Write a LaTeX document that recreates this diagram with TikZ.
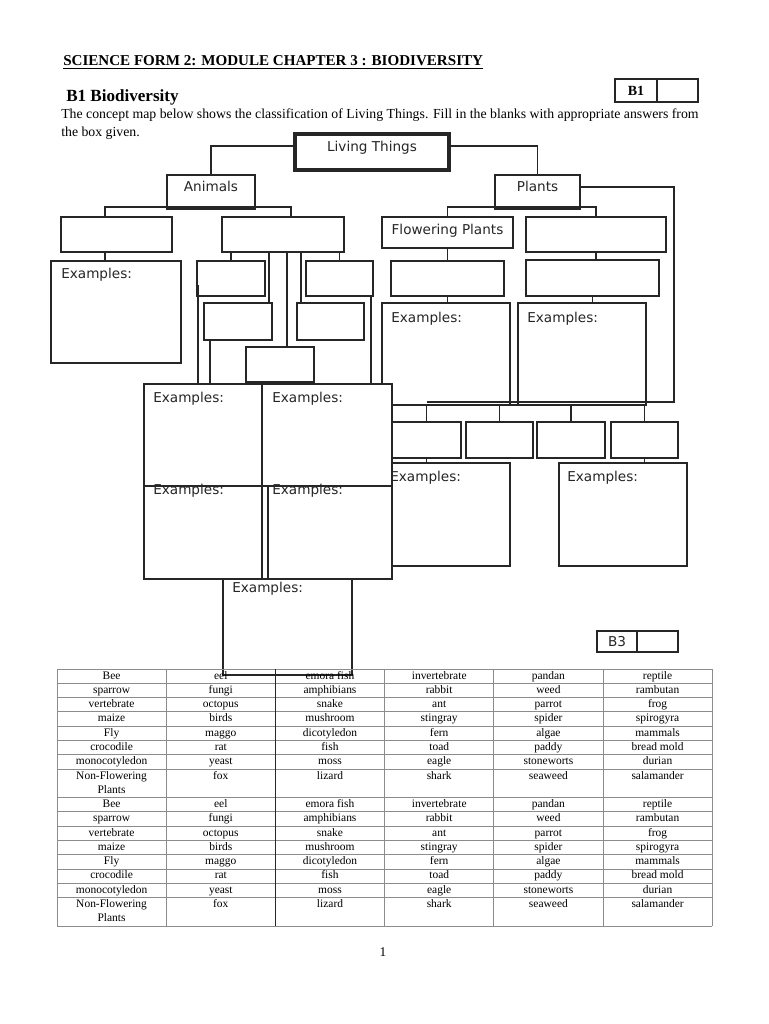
\documentclass[tikz,border=0pt]{standalone}
\usepackage{fontspec}
\setmainfont{Liberation Serif}
\newfontfamily\boxfont{DejaVu Sans}
\usetikzlibrary{positioning,calc}
\definecolor{clrL}{RGB}{38,38,38}
\definecolor{clrT}{RGB}{140,140,140}
\tikzset{
  blank/.style={rectangle,draw=clrL,line width=0.9pt,fill=white,inner sep=0pt,outer sep=0pt},
  sz/.style 2 args={minimum width=#1*0.75pt,minimum height=#2*0.75pt},
  rootbox/.style={blank,line width=2.6pt},
  boxtext/.style={font=\boxfont\fontsize{10.2}{12}\selectfont,text=clrL,inner sep=0pt},
  extext/.style={boxtext,anchor=north west},
  link/.style={draw=clrL,line width=0.9pt},
  head/.style={anchor=base west,inner sep=0pt},
  cell/.style={font=\fontsize{8.6}{10.5}\selectfont,inner sep=0pt,align=center,anchor=north},
  rule/.style={draw=clrT,line width=0.6pt}
}
\begin{document}
\begin{tikzpicture}[x=0.75pt,y=-0.75pt]
  \useasboundingbox (0,0) rectangle (768,1024);
  \fill[white] (0,0) rectangle (768,1024);
  % heading
  \node[head,font=\fontsize{11.3}{13}\selectfont\bfseries] (title) at (63,66)
    {\underline{SCIENCE FORM 2: MODULE CHAPTER 3 : BIODIVERSITY}};
  \node[head,font=\fontsize{12.8}{14}\selectfont\bfseries] (section) at (66,101) {B1 Biodiversity};
  \node[head,font=\fontsize{10.35}{12}\selectfont] (introA) at (61,118)
    {The concept map below shows the classification of Living Things. Fill in the blanks with appropriate answers from};
  \node[head,font=\fontsize{10.35}{12}\selectfont] (introB) at (61,137) {the box given.};
  \node[blank,sz={42}{23},font=\fontsize{10.5}{12}\selectfont\bfseries] (markOne) at (636,90.5) {B1};
  \node[blank,sz={41}{23},right=0pt of markOne] (markOneBox) {};
  % top of the map
  \node[rootbox,sz={154}{36}] (living) at (372,152) {};
  \node[boxtext,below=5pt of living.north] (livingTxt) {Living Things};
  \node[blank,sz={88}{34}] (animals) at (211,192) {};
  \node[boxtext,below=4.5pt of animals.north] (animalsTxt) {Animals};
  \node[blank,sz={85}{34}] (plants) at (537.5,192) {};
  \node[boxtext,below=4.5pt of plants.north] (plantsTxt) {Plants};
  \draw[link] ($(living.west)+(0,-6)$) -| (animals.north);
  \draw[link] ($(living.east)+(0,-6)$) -| (plants.north);
  % animals
  \node[blank,sz={111}{35}] (invBox) at (116.5,234.5) {};
  \node[blank,sz={122}{35}] (vertBox) at (283,234.5) {};
  \coordinate (animalsFork) at ($(animals.south)+(0,-2)$);
  \draw[link] ($(invBox.north)+(-11.5,0)$) |- (animalsFork) -| ($(vertBox.north)+(8,0)$);
  \node[blank,sz={130}{102}] (invEx) at (116,312) {};
  \node[extext,below right=5.25pt and 7.5pt of invEx.north west] (invExTxt) {Examples:};
  \coordinate (invTap) at ($(invBox.south)+(-11.5,0)$);
  \draw[link] (invTap) -- (invTap |- invEx.north);
  \node[blank,sz={68}{35}] (clsA) at (231,278.5) {};
  \node[blank,sz={67}{35}] (clsB) at (339.5,278.5) {};
  \node[blank,sz={68}{37}] (clsC) at (238,321.5) {};
  \node[blank,sz={67}{37}] (clsD) at (330.5,321.5) {};
  \node[blank,sz={68}{35}] (clsE) at (280,364.5) {};
  \coordinate (tapC) at ($(clsC.north east)+(-3,0)$);
  \coordinate (tapD) at ($(clsD.north west)+(4,0)$);
  \coordinate (tapE) at ($(clsE.north)+(7,0)$);
  \draw[link] (clsA.north) -- (clsA.north |- vertBox.south);
  \draw[link] (clsB.north) -- (clsB.north |- vertBox.south);
  \draw[link] (tapC) -- (tapC |- vertBox.south);
  \draw[link] (tapD) -- (tapD |- vertBox.south);
  \draw[link] (tapE) -- (tapE |- vertBox.south);
  % plants
  \node[blank,sz={131}{31}] (flowBox) at (447.5,232.5) {};
  \node[boxtext,below=5pt of flowBox.north] (flowTxt) {Flowering Plants};
  \node[blank,sz={140}{35}] (nonflowBox) at (596,234.5) {};
  \coordinate (plantsFork) at ($(plants.south)+(0,-2)$);
  \draw[link] (flowBox.north) |- (plantsFork) -| (nonflowBox.north);
  \node[blank,sz={113}{35}] (flowSub) at (447.5,278.5) {};
  \node[blank,sz={133}{36}] (nonflowSub) at (592.5,278) {};
  \draw[link] (flowBox.south) -- (flowSub.north);
  \draw[link] (nonflowBox.south) -- (nonflowBox.south |- nonflowSub.north);
  \node[blank,sz={128}{102}] (flowEx) at (446,354) {};
  \node[extext,below right=6.75pt and 6.75pt of flowEx.north west] (flowExTxt) {Examples:};
  \node[blank,sz={128}{102}] (nonflowEx) at (582,354) {};
  \node[extext,below right=6.75pt and 6.75pt of nonflowEx.north west] (nonflowExTxt) {Examples:};
  \draw[link] (flowSub.south) -- (flowSub.south |- flowEx.north);
  \draw[link] (nonflowSub.south) -- (nonflowSub.south |- nonflowEx.north);
  \node[blank,sz={69}{36}] (nfA) at (426.5,440) {};
  \node[blank,sz={67}{36}] (nfB) at (499.5,440) {};
  \node[blank,sz={68}{36}] (nfC) at (571,440) {};
  \node[blank,sz={67}{36}] (nfD) at (644.5,440) {};
  \foreach \g in {nfA,nfB,nfC,nfD}
    \draw[link] (\g.north) -- (\g.north |- nonflowEx.south);
  \draw[link] (nfA.north |- nonflowEx.south) -- (nfD.north |- nonflowEx.south);
  \coordinate (plantsBend) at (674,402);
  \draw[link] ($(plants.east)+(0,-5)$) -| (plantsBend) -- (plantsBend -| nfA.north);
  \node[blank,sz={128}{103}] (nfExA) at (446,514.5) {};
  \node[extext,below right=6pt and 6pt of nfExA.north west] (nfExATxt) {Examples:};
  \node[blank,sz={128}{103}] (nfExB) at (623,514.5) {};
  \node[extext,below right=6pt and 6pt of nfExB.north west] (nfExBTxt) {Examples:};
  \draw[link] (nfA.south) -- (nfA.south |- nfExA.north);
  \draw[link] (nfD.south) -- (nfD.south |- nfExB.north);
  % vertebrate examples grid
  \node[blank,sz={118}{102}] (exA) at (203,435) {};
  \node[blank,sz={130}{102}] (exB) at (327,435) {};
  \node[blank,sz={118}{93}] (exC) at (203,532.5) {};
  \node[blank,sz={124}{93}] (exD) at (330,532.5) {};
  \node[blank,sz={129}{96}] (exE) at (287.5,627) {};
  \node[extext,below right=6pt and 6.75pt of exA.north west] (exATxt) {Examples:};
  \node[extext,below right=6pt and 7.5pt of exB.north west] (exBTxt) {Examples:};
  \node[extext,below right=-1.5pt and 6.75pt of exC.north west] (exCTxt) {Examples:};
  \node[extext,below right=-1.5pt and 3pt of exD.north west] (exDTxt) {Examples:};
  \node[extext,below right=2.25pt and 6.75pt of exE.north west] (exETxt) {Examples:};
  \coordinate (tapA) at ($(clsA.south west)+(1,-11)$);
  \coordinate (tapCb) at ($(clsC.south west)+(6,0)$);
  \coordinate (tapEa) at ($(clsE.south)+(-11,0)$);
  \coordinate (tapEb) at ($(clsE.south)+(21,0)$);
  \coordinate (tapB) at ($(clsB.south east)+(-2,0)$);
  \draw[link] (tapA) -- (tapA |- exA.north);
  \draw[link] (tapCb) -- (tapCb |- exA.north);
  \draw[link] (tapEa) -- (tapEa |- exA.north);
  \draw[link] (tapEb) -- (tapEb |- exB.north);
  \draw[link] (tapB) -- (tapB |- exB.north);
  % score box
  \node[blank,sz={40}{21},boxtext] (markThree) at (617,641.5) {B3};
  \node[blank,sz={41}{21},right=0pt of markThree] (markThreeBox) {};
  % answer table
  \foreach \k in {0,...,7,9,10,...,16,18}
    \draw[rule] (57,{669+\k*14.28}) -- (712.2,{669+\k*14.28});
  \foreach \cl in {0,...,6}
    \draw[rule] ({57+\cl*109.2},669) -- ({57+\cl*109.2},926);
  \draw[draw=clrL,line width=0.6pt] (275.4,669) -- (275.4,926);
  \foreach \blk in {0,9}{
    \foreach \row [count=\rw from 0] in {
      {Bee,eel,emora fish,invertebrate,pandan,reptile},
      {sparrow,fungi,amphibians,rabbit,weed,rambutan},
      {vertebrate,octopus,snake,ant,parrot,frog},
      {maize,birds,mushroom,stingray,spider,spirogyra},
      {Fly,maggo,dicotyledon,fern,algae,mammals},
      {crocodile,rat,fish,toad,paddy,bread mold},
      {monocotyledon,yeast,moss,eagle,stoneworts,durian},
      {Non-Flowering\\Plants,fox,lizard,shark,seaweed,salamander}}{
      \foreach \entry [count=\cl from 0] in \row
        \node[cell] (word-\blk-\rw-\cl) at ({57+(\cl+0.5)*109.2},{669+(\blk+\rw)*14.28}) {\strut\entry};
    }
  }
  \node[font=\fontsize{10}{12}\selectfont,inner sep=0pt] (pageNo) at (383,952) {1};
\end{tikzpicture}
\end{document}
